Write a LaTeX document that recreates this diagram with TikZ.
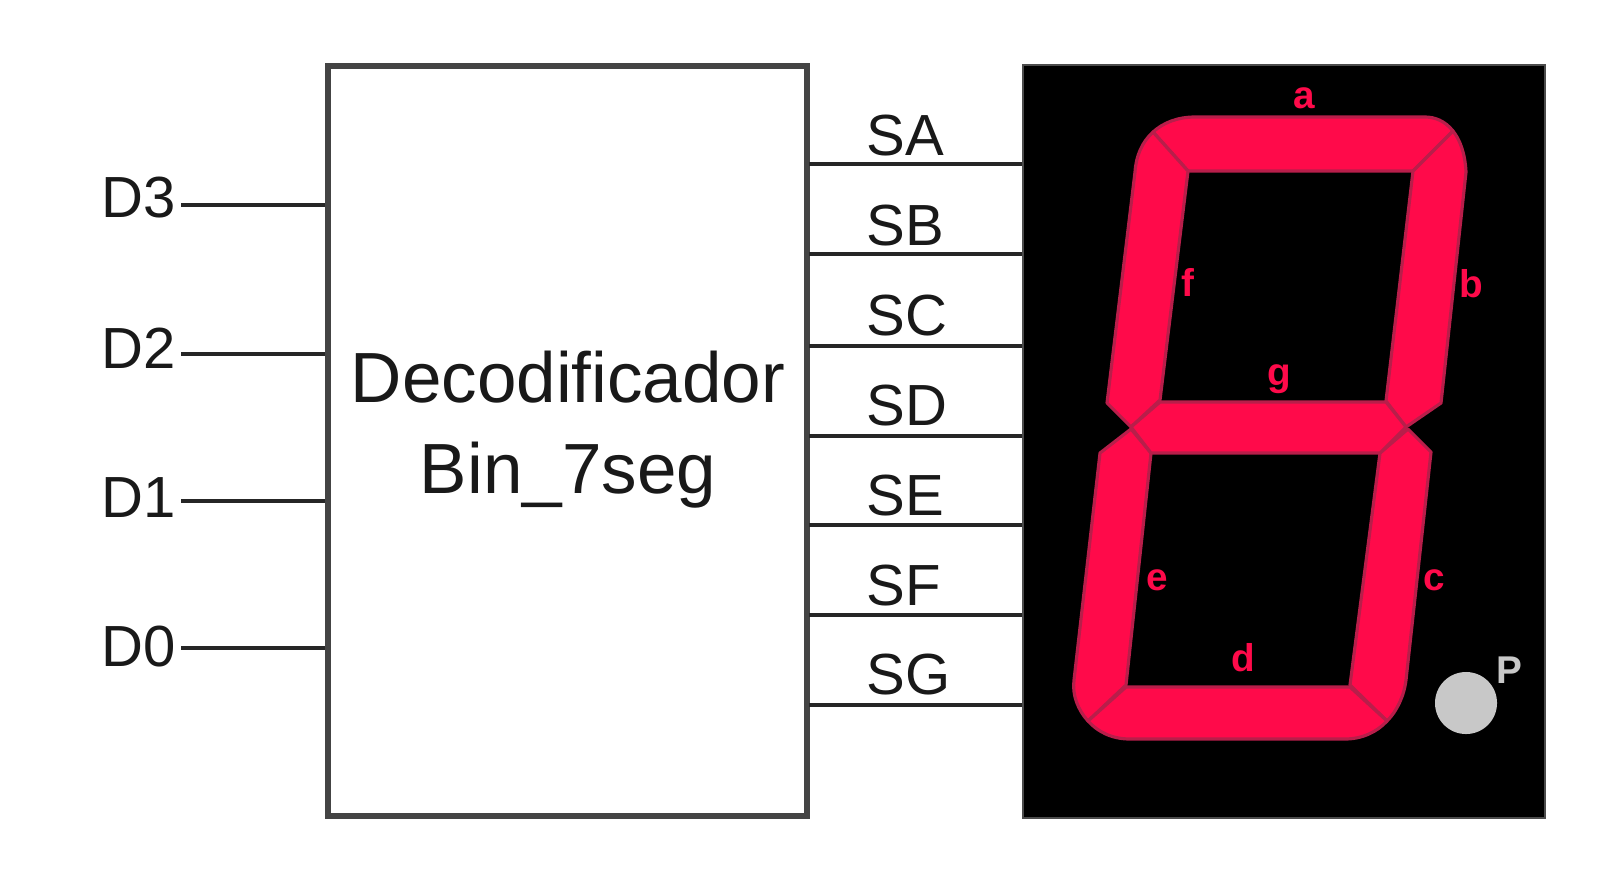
\documentclass[tikz,border=0pt]{standalone}
\usepackage{fontspec}
\setmainfont{Liberation Sans}
\usepackage{tikz}
\definecolor{segred}{HTML}{FF0A4A}
\definecolor{segedge}{HTML}{B81E4A}
\definecolor{wirecol}{HTML}{262626}
\definecolor{boxcol}{HTML}{444444}
\definecolor{dotcol}{HTML}{C8C8C8}
\tikzset{
  pinlabel/.style={font=\fontsize{16.5}{18}\selectfont,text=black!90,inner sep=0pt},
  seglabel/.style={font=\fontsize{11}{12}\bfseries\selectfont,text=segred,inner sep=0pt},
  wire/.style={draw=wirecol,line width=1.3pt},
  segment/.style={fill=segred,draw=segedge,line width=0.9pt,line join=round}
}
\begin{document}
\begin{tikzpicture}[x=0.01cm,y=-0.01cm]
\useasboundingbox[fill=white] (0,0) rectangle (1600,878);
\node[draw=boxcol,line width=1.6pt,fill=white,minimum width=4.79cm,minimum height=7.49cm,inner sep=0pt] (dec) at (567.5,441) {};
\node[fill=black,draw=black!70,line width=0.5pt,minimum width=5.22cm,minimum height=7.53cm,inner sep=0pt] (disp) at (1284,441.5) {};
\node[font=\fontsize{20.2}{25.9}\selectfont,text=black!90,align=center,inner sep=0pt] (dectext) at (568,430) {Decodificador\\Bin\_7seg};
\node[pinlabel,anchor=east] (D3) at (176,198) {D3};
\node[pinlabel,anchor=east] (D2) at (176,348) {D2};
\node[pinlabel,anchor=east] (D1) at (176,498) {D1};
\node[pinlabel,anchor=east] (D0) at (176,647) {D0};
\coordinate (D3w) at (181,205);
\coordinate (D2w) at (181,354);
\coordinate (D1w) at (181,501);
\coordinate (D0w) at (181,648);
\draw[wire] (D3w) -- (D3w -| dec.west);
\draw[wire] (D2w) -- (D2w -| dec.west);
\draw[wire] (D1w) -- (D1w -| dec.west);
\draw[wire] (D0w) -- (D0w -| dec.west);
\node[pinlabel,anchor=west] (SA) at (866,136) {SA};
\node[pinlabel,anchor=west] (SB) at (866,226) {SB};
\node[pinlabel,anchor=west] (SC) at (866,316) {SC};
\node[pinlabel,anchor=west] (SD) at (866,406) {SD};
\node[pinlabel,anchor=west] (SE) at (866,496) {SE};
\node[pinlabel,anchor=west] (SF) at (866,586) {SF};
\node[pinlabel,anchor=west] (SG) at (866,675) {SG};
\coordinate (SAw) at (809,164);
\coordinate (SBw) at (809,254);
\coordinate (SCw) at (809,346);
\coordinate (SDw) at (809,436);
\coordinate (SEw) at (809,525);
\coordinate (SFw) at (809,615);
\coordinate (SGw) at (809,705);
\draw[wire] (SAw) -- (SAw -| disp.west);
\draw[wire] (SBw) -- (SBw -| disp.west);
\draw[wire] (SCw) -- (SCw -| disp.west);
\draw[wire] (SDw) -- (SDw -| disp.west);
\draw[wire] (SEw) -- (SEw -| disp.west);
\draw[wire] (SFw) -- (SFw -| disp.west);
\draw[wire] (SGw) -- (SGw -| disp.west);
\path[segment] (1153,132) .. controls (1163,123) and (1177,117) .. (1195,117) -- (1425,117) .. controls (1435,117) and (1445,121) .. (1453,131) -- (1413,171) -- (1188,171) -- cycle;
\path[segment] (1453,131) .. controls (1460,140) and (1465,153) .. (1466,172) -- (1441,403) -- (1406,427) -- (1386,401) -- (1413,171) -- cycle;
\path[segment] (1153,132) -- (1188,171) -- (1160,400) -- (1131,427) -- (1107,403) -- (1135,172) .. controls (1136,156) and (1142,142) .. (1153,132) -- cycle;
\path[segment] (1131,429) -- (1151,453) -- (1126,685) -- (1088,721) .. controls (1078,710) and (1072,695) .. (1074,680) -- (1100,453) -- cycle;
\path[segment] (1408,429) -- (1431,452) -- (1406,680) .. controls (1404,696) and (1397,711) .. (1387,721) -- (1350,685) -- (1380,453) -- cycle;
\path[segment] (1126,687) -- (1350,687) -- (1387,721) .. controls (1377,732) and (1362,739) .. (1345,739) -- (1130,739) .. controls (1112,739) and (1098,732) .. (1088,721) -- cycle;
\path[segment] (1131,427) -- (1160,402) -- (1386,402) -- (1406,427) -- (1380,453) -- (1151,453) -- cycle;
\node[fill=dotcol,circle,minimum size=0.62cm,inner sep=0pt] (dot) at (1466,703) {};
\node[seglabel] (la) at (1304,98) {a};
\node[seglabel] (lb) at (1471,284) {b};
\node[seglabel] (lc) at (1434,580) {c};
\node[seglabel] (ld) at (1243,658) {d};
\node[seglabel] (le) at (1157,580) {e};
\node[seglabel] (lf) at (1188,282) {f};
\node[seglabel] (lg) at (1279,379) {g};
\node[seglabel,text=dotcol] (lp) at (1509,670) {P};
\end{tikzpicture}
\end{document}
